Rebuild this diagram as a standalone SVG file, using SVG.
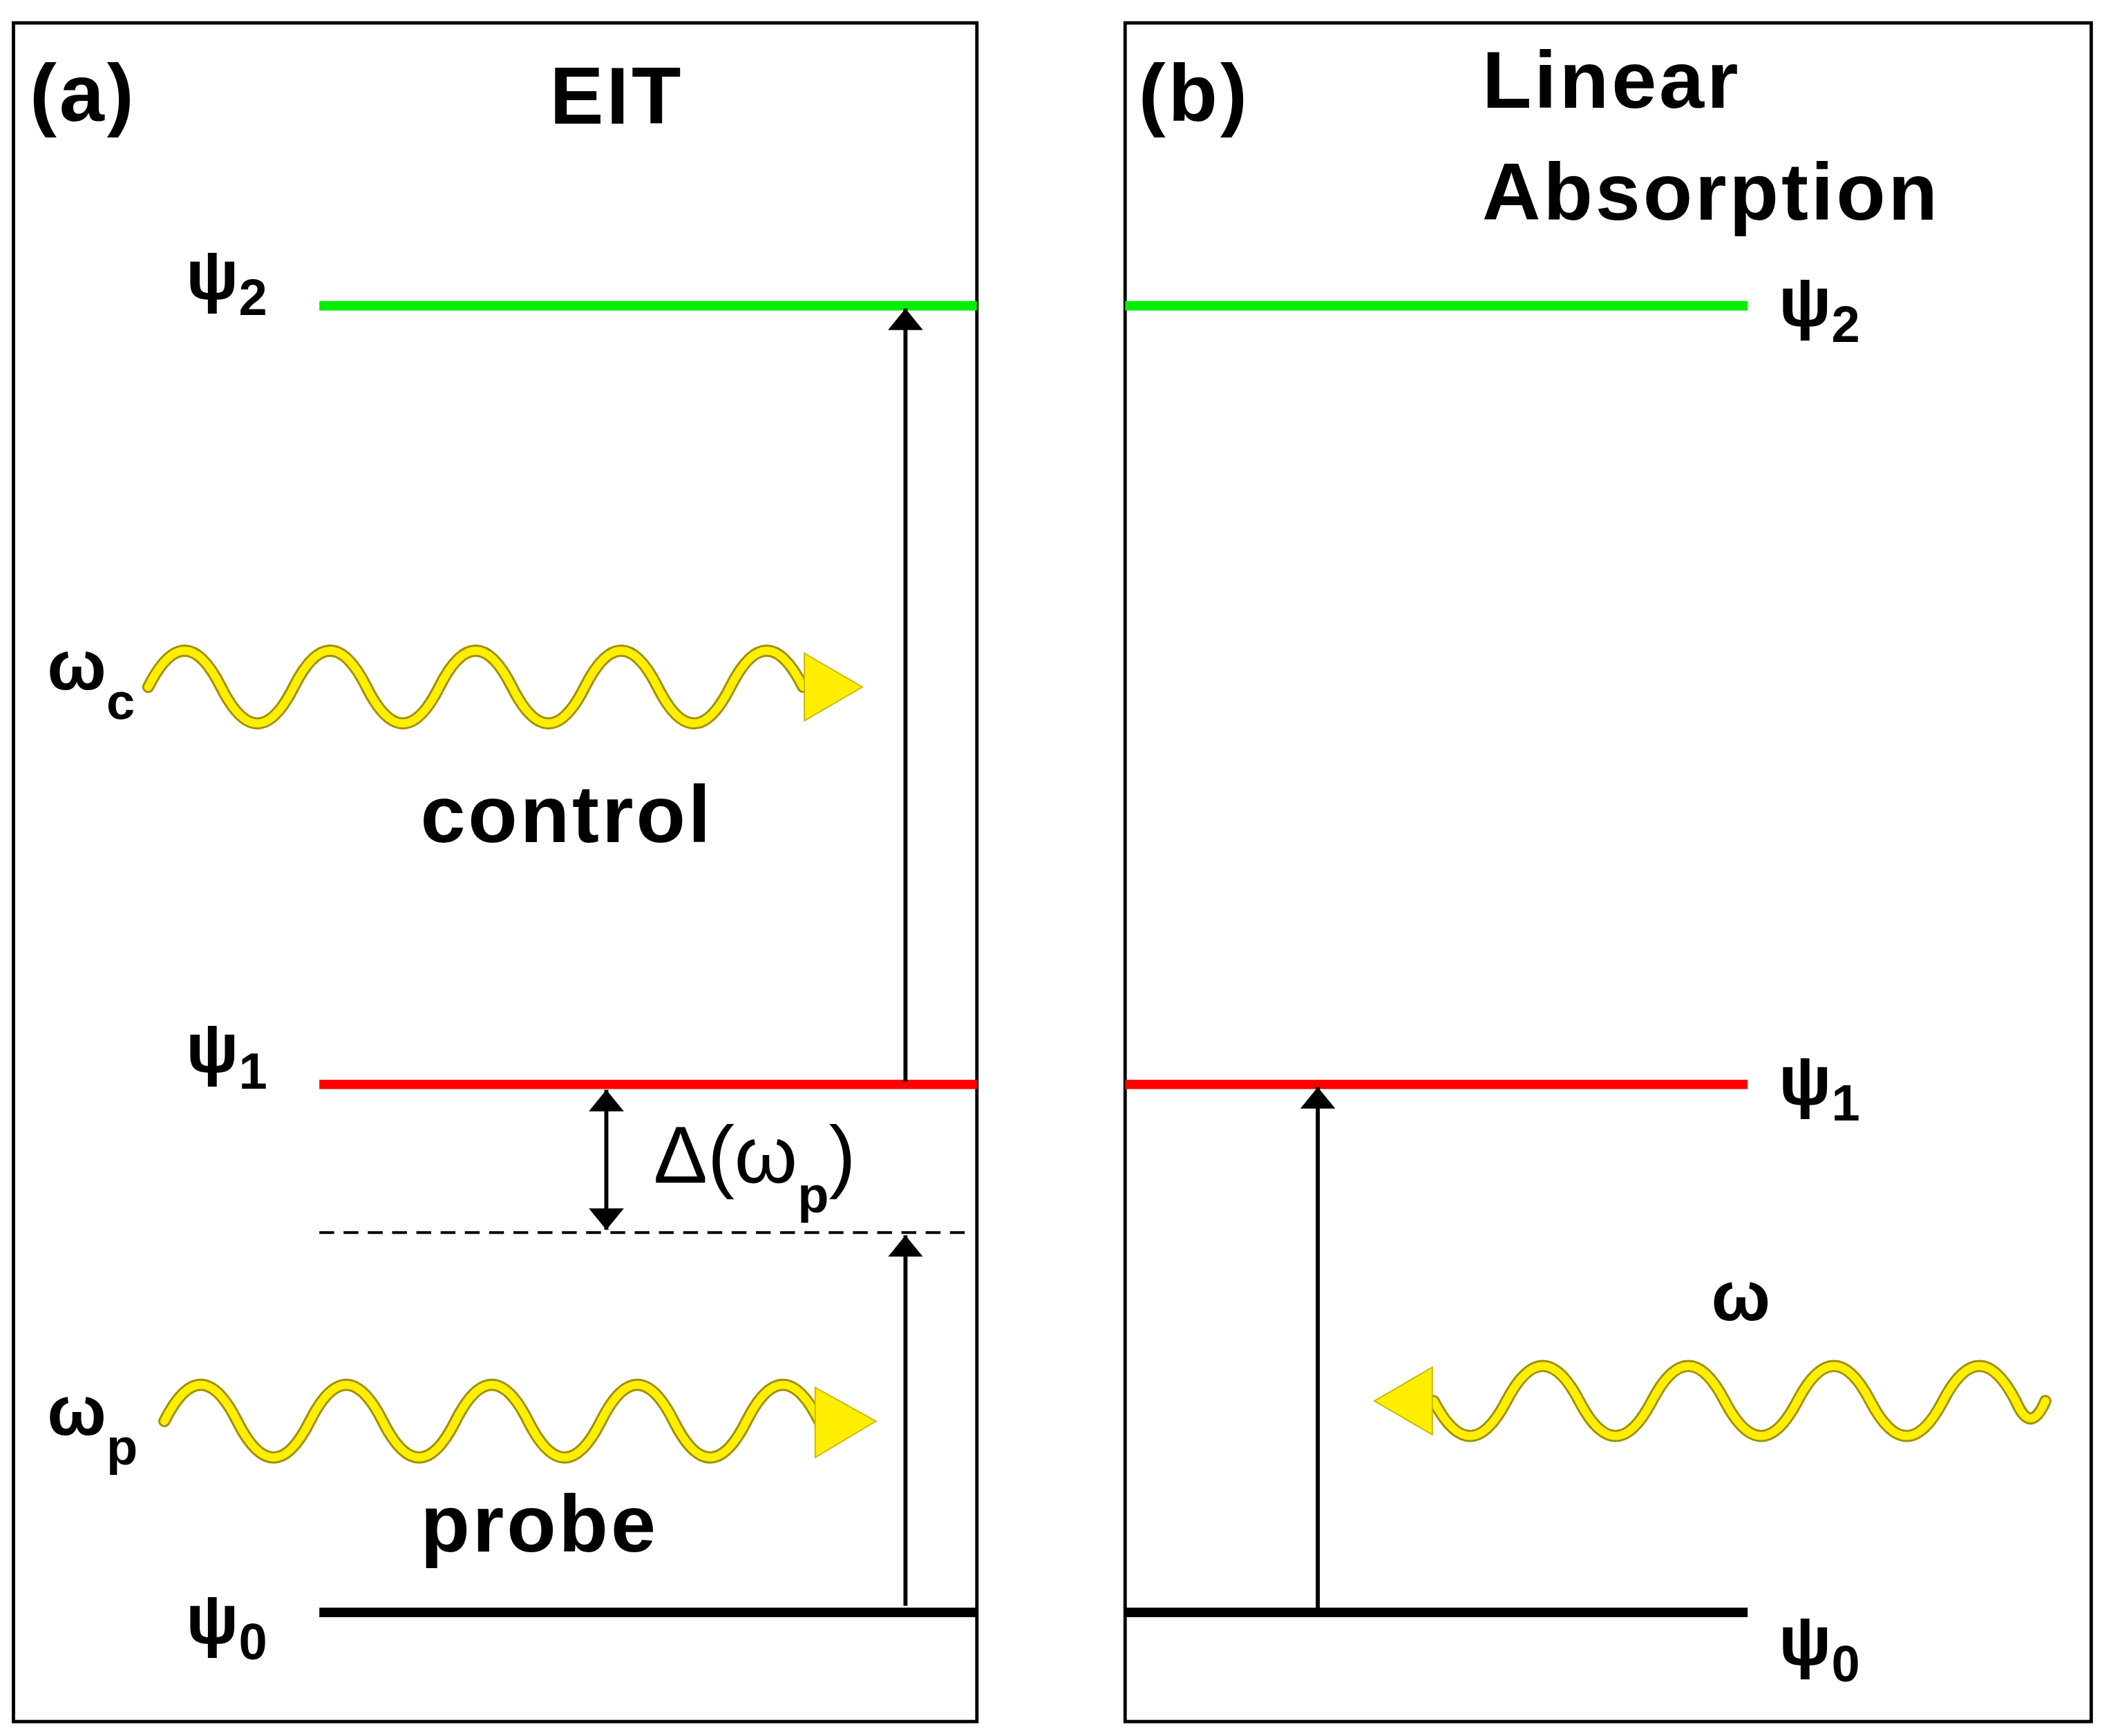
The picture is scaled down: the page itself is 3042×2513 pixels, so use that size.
<svg xmlns="http://www.w3.org/2000/svg" width="3042" height="2513" viewBox="0 0 3042 2513">
<style>
.t{font-family:"Liberation Sans",Arial,sans-serif;font-weight:bold;fill:#000}
.big{font-size:60px;letter-spacing:2px}
.box{fill:none;stroke:#000;stroke-width:2.5}
.wo{fill:none;stroke:#a09000;stroke-width:9;stroke-linecap:round}
.wi{fill:none;stroke:#ffee00;stroke-width:6;stroke-linecap:round}
.ah{fill:#ffee00;stroke:#c8b800;stroke-width:1}
.ar{stroke:#000;stroke-width:3;fill:none}
</style>
<defs>
<marker id="mk" viewBox="0 0 10 10" refX="10" refY="5" markerWidth="16" markerHeight="26" orient="auto-start-reverse" markerUnits="userSpaceOnUse" preserveAspectRatio="none"><path d="M0,0 L10,5 L0,10 z" fill="#000"/></marker>
</defs>
<rect width="3042" height="2513" fill="#fff"/>
<g transform="scale(1.95)">
<g id="panelA">
<rect class="box" x="10" y="17" width="715" height="1261"/>
<text class="t big" x="22" y="90">(a)</text>
<text class="t big" x="408" y="92">EIT</text>
</g>
<g id="panelB">
<rect class="box" x="835" y="17" width="717" height="1261"/>
<text class="t big" x="845" y="90">(b)</text>
<text class="t big" x="1100" y="80">Linear</text>
<text class="t big" x="1100" y="163">Absorption</text>
</g>
<g id="levelsA">
<line x1="237" y1="227" x2="725" y2="227" stroke="#00ee00" stroke-width="7"/>
<line x1="237" y1="805" x2="725" y2="805" stroke="#ff0000" stroke-width="7"/>
<line x1="237" y1="1197" x2="725" y2="1197" stroke="#000" stroke-width="7"/>
<line x1="237" y1="915" x2="720" y2="915" stroke="#000" stroke-width="2" stroke-dasharray="11,7"/>
<text class="t" x="138" y="222" font-size="52">ψ<tspan font-size="38" dy="12">2</tspan></text>
<text class="t" x="138" y="796" font-size="52">ψ<tspan font-size="38" dy="12">1</tspan></text>
<text class="t" x="138" y="1220" font-size="52">ψ<tspan font-size="38" dy="12">0</tspan></text>
</g>
<g id="levelsB">
<line x1="835" y1="227" x2="1297" y2="227" stroke="#00ee00" stroke-width="7"/>
<line x1="835" y1="805" x2="1297" y2="805" stroke="#ff0000" stroke-width="7"/>
<line x1="835" y1="1197" x2="1297" y2="1197" stroke="#000" stroke-width="7"/>
<text class="t" x="1320" y="242" font-size="52">ψ<tspan font-size="38" dy="12">2</tspan></text>
<text class="t" x="1320" y="820" font-size="52">ψ<tspan font-size="38" dy="12">1</tspan></text>
<text class="t" x="1320" y="1236" font-size="52">ψ<tspan font-size="38" dy="12">0</tspan></text>
</g>
<g id="connectors">
<line class="ar" x1="672" y1="803" x2="672" y2="229" marker-end="url(#mk)"/>
<line class="ar" x1="672" y1="1192" x2="672" y2="917" marker-end="url(#mk)"/>
<line class="ar" x1="450" y1="809" x2="450" y2="913" marker-start="url(#mk)" marker-end="url(#mk)"/>
<line class="ar" x1="978" y1="1195" x2="978" y2="807" marker-end="url(#mk)"/>
</g>
<g id="control">
<path class="wo" d="M110,510 q27,-54 54,0 t54,0 t54,0 t54,0 t54,0 t54,0 t54,0 t54,0 t54,0"/>
<path class="wi" d="M110,510 q27,-54 54,0 t54,0 t54,0 t54,0 t54,0 t54,0 t54,0 t54,0 t54,0"/>
<path class="ah" d="M597,485 L640,510 L597,535 z"/>
<text class="t" x="35" y="512" font-size="52">ω<tspan font-size="38" dy="22">c</tspan></text>
<text class="t big" x="312" y="625">control</text>
</g>
<g id="probe">
<path class="wo" d="M122,1055 q27,-54 54,0 t54,0 t54,0 t54,0 t54,0 t54,0 t54,0 t54,0 t54,0"/>
<path class="wi" d="M122,1055 q27,-54 54,0 t54,0 t54,0 t54,0 t54,0 t54,0 t54,0 t54,0 t54,0"/>
<path class="ah" d="M605,1030 L650,1055 L605,1082 z"/>
<text class="t" x="35" y="1065" font-size="52">ω<tspan font-size="38" dy="22">p</tspan></text>
<text class="t big" x="312" y="1152">probe</text>
</g>
<g id="delta">
<text x="485" y="878" font-size="60" font-family="Liberation Sans, Arial, sans-serif">Δ(ω<tspan font-size="38" dy="22" font-weight="bold">p</tspan><tspan dy="-22">)</tspan></text>
</g>
<g id="waveB">
<path class="wo" d="M1064,1040 q27,52 54,0 t54,0 t54,0 t54,0 t54,0 t54,0 t54,0 t54,0 q11,26 22,-0"/>
<path class="wi" d="M1064,1040 q27,52 54,0 t54,0 t54,0 t54,0 t54,0 t54,0 t54,0 t54,0 q11,26 22,-0"/>
<path class="ah" d="M1063,1015 L1020,1040 L1063,1065 z"/>
<text class="t" x="1270" y="980" font-size="52">ω</text>
</g>
</g>
</svg>
